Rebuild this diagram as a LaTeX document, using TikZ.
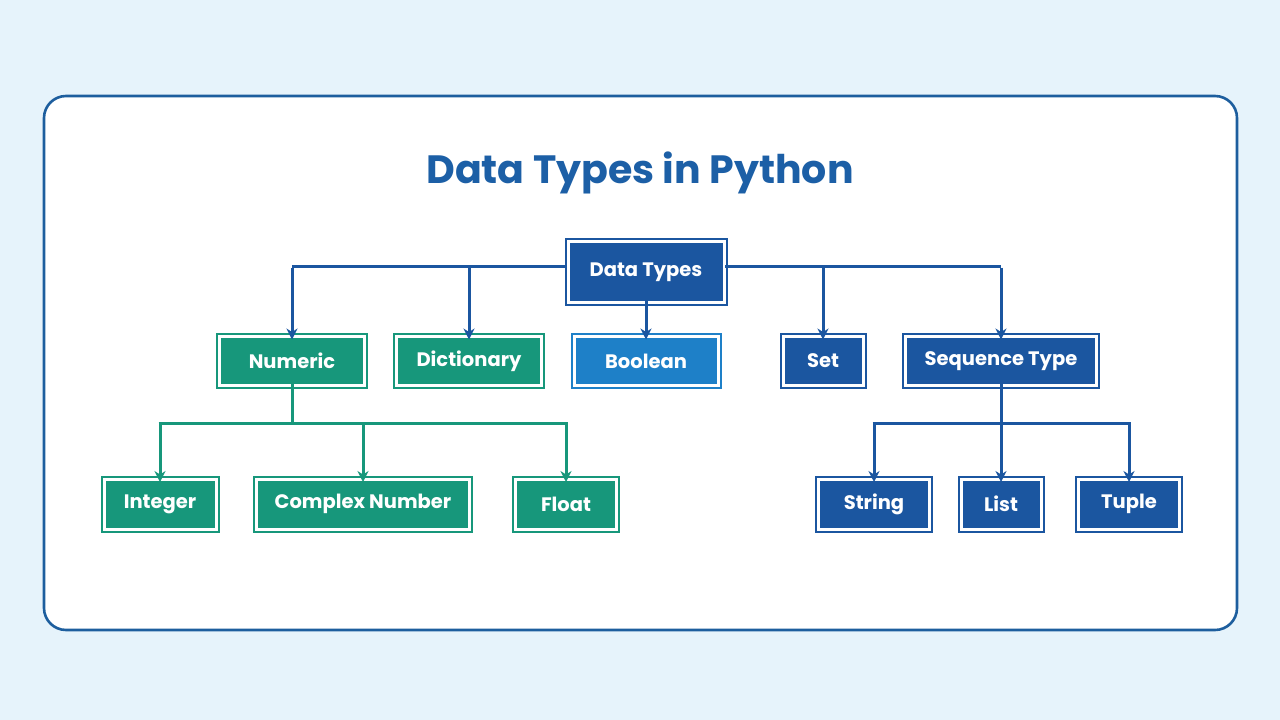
\documentclass[tikz,border=0pt]{standalone}
\usepackage{fontspec}
\setmainfont{Poppins}
\usetikzlibrary{arrows.meta}
\definecolor{bg}{HTML}{E6F3FB}
\definecolor{frame}{HTML}{1D5E9E}
\definecolor{tgreen}{HTML}{17977B}
\definecolor{dblue}{HTML}{1B56A0}
\definecolor{lblue}{HTML}{1E80C8}
\definecolor{ttl}{HTML}{1C5FA6}
\tikzset{
  box/.style={draw=#1, fill=#1, line width=2pt, double=white, double distance=3pt,
    text=white, font=\fontsize{19.5}{22}\selectfont\bfseries, inner sep=0pt, anchor=center},
  conn/.style={draw=#1, line width=3pt, -{Stealth[length=11pt,width=11pt]}},
  lin/.style={draw=#1, line width=3pt}
}
\begin{document}
\begin{tikzpicture}[x=1pt,y=-1pt]
\fill[bg] (0,0) rectangle (1280,720);
\useasboundingbox (0,0) rectangle (1280,720);
\draw[frame, line width=2.6pt, fill=white, rounded corners=22pt] (44,96) rectangle (1237,630);
\node[text=ttl, font=\fontsize{39.5}{44}\selectfont\bfseries] (title) at (640,173) {Data Types in Python};
\node[box=dblue, minimum width=156pt, minimum height=61pt] (dt) at (646,272) {Data Types};
\node[box=tgreen, minimum width=145pt, minimum height=49pt] (num) at (292,361) {Numeric};
\node[box=tgreen, minimum width=145pt, minimum height=49pt] (dic) at (469,361) {Dictionary};
\node[box=lblue, minimum width=144pt, minimum height=49pt] (boo) at (646,361) {Boolean};
\node[box=dblue, minimum width=80pt, minimum height=49pt] (set) at (823,361) {Set};
\node[box=dblue, minimum width=191pt, minimum height=49pt] (seq) at (1001,361) {Sequence Type};
\node[box=tgreen, minimum width=112pt, minimum height=50pt] (int) at (160,504) {Integer};
\node[box=tgreen, minimum width=213pt, minimum height=50pt] (cpx) at (363,504) {Complex Number};
\node[box=tgreen, minimum width=101pt, minimum height=50pt] (flo) at (566,504) {Float};
\node[box=dblue, minimum width=111pt, minimum height=50pt] (str) at (874,504) {String};
\node[box=dblue, minimum width=80pt, minimum height=50pt] (lst) at (1001,504) {List};
\node[box=dblue, minimum width=101pt, minimum height=50pt] (tup) at (1129,504) {Tuple};
% top connectors
\coordinate (hl) at (292,266); \coordinate (hr) at (1001,266);
\draw[lin=dblue] (dt.west |- hl) -- (hl);
\draw[lin=dblue] (dt.east |- hr) -- (hr);
\draw[conn=dblue] ([yshift=-1.5pt]hl) -- ([yshift=-4pt]num.north);
\draw[conn=dblue] ([yshift=-1.5pt]hr) -- ([yshift=-4pt]seq.north);
\draw[conn=dblue] (469,266) -- ([yshift=-4pt]dic.north);
\draw[conn=dblue] (823,266) -- ([yshift=-4pt]set.north);
\draw[conn=dblue] ([yshift=4pt]dt.south) -- ([yshift=-4pt]boo.north);
% numeric children
\draw[lin=tgreen] ([yshift=4pt]num.south) -- (292,423);
\draw[lin=tgreen] (158.5,423) -- (567.5,423);
\draw[conn=tgreen] (160,423) -- ([yshift=-4pt]int.north);
\draw[conn=tgreen] (363,423) -- ([yshift=-4pt]cpx.north);
\draw[conn=tgreen] (566,423) -- ([yshift=-4pt]flo.north);
% sequence children
\draw[lin=dblue] ([yshift=4pt]seq.south) -- (1001,423);
\draw[lin=dblue] (872.5,423) -- (1130.5,423);
\draw[conn=dblue] (874,423) -- ([yshift=-4pt]str.north);
\draw[conn=dblue] (1001,423) -- ([yshift=-4pt]lst.north);
\draw[conn=dblue] (1129,423) -- ([yshift=-4pt]tup.north);
\end{tikzpicture}
\end{document}
